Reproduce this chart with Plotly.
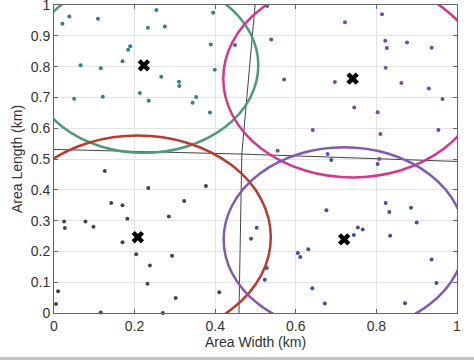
import plotly.graph_objects as go

# Cluster 1 (top-left, teal)
c1_x = [0.021, 0.038, 0.109, 0.254, 0.233, 0.275, 0.395, 0.189, 0.184, 0.389, 0.170, 0.066,
        0.116, 0.399, 0.266, 0.310, 0.311, 0.050, 0.121, 0.213, 0.235, 0.344, 0.353, 0.387]
c1_y = [0.939, 0.963, 0.955, 0.984, 0.926, 0.930, 0.975, 0.866, 0.855, 0.872, 0.817, 0.804,
        0.795, 0.790, 0.767, 0.751, 0.737, 0.696, 0.702, 0.714, 0.689, 0.683, 0.701, 0.651]

# Cluster 2 (top-right, purple)
c2_x = [0.449, 0.529, 0.814, 0.722, 0.539, 0.822, 0.876, 0.826, 0.937, 0.823, 0.571, 0.697,
        0.862, 0.930, 0.964, 0.745, 0.803, 0.642, 0.810, 0.954, 0.555, 0.679, 0.807]
c2_y = [0.870, 0.997, 0.970, 0.944, 0.888, 0.884, 0.878, 0.860, 0.861, 0.796, 0.758, 0.750,
        0.747, 0.729, 0.695, 0.667, 0.652, 0.594, 0.581, 0.594, 0.527, 0.516, 0.500]

# Cluster 3 (bottom-left, dark gray)
c3_x = [0.126, 0.234, 0.377, 0.142, 0.170, 0.323, 0.025, 0.078, 0.027, 0.098, 0.182, 0.285,
        0.170, 0.204, 0.293, 0.238, 0.232, 0.010, 0.302, 0.005, 0.410, 0.116, 0.270]
c3_y = [0.461, 0.406, 0.412, 0.357, 0.350, 0.364, 0.297, 0.297, 0.276, 0.280, 0.306, 0.313,
        0.230, 0.191, 0.186, 0.154, 0.095, 0.071, 0.049, 0.029, 0.067, 0.002, 0.000]

# Cluster 4 (bottom-right, blue)
c4_x = [0.823, 0.832, 0.886, 0.900, 0.676, 0.503, 0.489, 0.754, 0.766, 0.744, 0.834, 0.631,
        0.605, 0.611, 0.528, 0.523, 0.937, 0.949, 0.641, 0.672, 0.871, 0.688, 0.803]
c4_y = [0.357, 0.328, 0.342, 0.294, 0.334, 0.277, 0.241, 0.278, 0.271, 0.253, 0.251, 0.207,
        0.195, 0.182, 0.146, 0.108, 0.174, 0.097, 0.080, 0.031, 0.032, 0.497, 0.484]

# Centroids and coverage radii
cent_x = [0.223, 0.741, 0.208, 0.720]
cent_y = [0.804, 0.761, 0.246, 0.239]
radii = [0.284, 0.321, 0.330, 0.299]

# Cell boundaries (polyline segments)
bound_x = [0.0, 0.466, 1.0, None, 0.499, 0.466, 0.459]
bound_y = [0.531, 0.516, 0.492, None, 1.0, 0.516, 0.0]

x_ticks = [0, 0.2, 0.4, 0.6, 0.8, 1]
x_tick_labels = ["0", "0.2", "0.4", "0.6", "0.8", "1"]
y_ticks = [0, 0.1, 0.2, 0.3, 0.4, 0.5, 0.6, 0.7, 0.8, 0.9, 1]
y_tick_labels = ["0", "0.1", "0.2", "0.3", "0.4", "0.5", "0.6", "0.7", "0.8", "0.9", "1"]

point_colors = ["#2f7f90", "#7a48a0", "#454545", "#4050a0"]
circle_colors = ["#4e9a78", "#d6358c", "#b83a30", "#8458b0"]

fig = go.Figure()

fig.add_trace(go.Scatter(x=bound_x, y=bound_y, mode="lines",
                         line=dict(color="#444444", width=1), hoverinfo="skip"))

for xs, ys, col in [(c1_x, c1_y, point_colors[0]), (c2_x, c2_y, point_colors[1]),
                    (c3_x, c3_y, point_colors[2]), (c4_x, c4_y, point_colors[3])]:
    fig.add_trace(go.Scatter(x=xs, y=ys, mode="markers",
                             marker=dict(color=col, size=4), cliponaxis=False))

fig.add_trace(go.Scatter(x=cent_x, y=cent_y, mode="markers",
                         marker=dict(symbol="x", color="black", size=11,
                                     line=dict(width=0))))

shapes = []
for cx, cy, r, col in zip(cent_x, cent_y, radii, circle_colors):
    shapes.append(dict(type="circle", xref="x", yref="y",
                       x0=cx - r, x1=cx + r, y0=cy - r, y1=cy + r,
                       line=dict(color=col, width=2.5), layer="above"))
shapes.append(dict(type="rect", xref="paper", yref="paper",
                   x0=-0.2, x1=1.1, y0=-0.1526, y1=-0.143,
                   fillcolor="#c4c4c4", line=dict(width=0), layer="above"))

fig.update_layout(
    template="none",
    width=474, height=360,
    margin=dict(l=54, r=17, t=5, b=47, autoexpand=False),
    paper_bgcolor="white", plot_bgcolor="white",
    showlegend=False,
    shapes=shapes,
    font=dict(family="Liberation Sans, Arial, sans-serif", size=14, color="#333333"),
    xaxis=dict(range=[0, 1], tickvals=x_ticks, ticktext=x_tick_labels, automargin=False,
               ticklabeloverflow="allow",
               showgrid=True, gridcolor="#e4e4e4", gridwidth=1,
               showline=True, linecolor="#666666", linewidth=1, mirror="ticks",
               ticks="inside", ticklen=4, tickcolor="#666666", zeroline=False,
               title=dict(text="Area Width (km)", standoff=4, font=dict(size=14))),
    yaxis=dict(range=[0, 1], tickvals=y_ticks, ticktext=y_tick_labels, automargin=False,
               ticklabeloverflow="allow",
               showgrid=True, gridcolor="#e4e4e4", gridwidth=1,
               showline=True, linecolor="#666666", linewidth=1, mirror="ticks",
               ticks="inside", ticklen=4, tickcolor="#666666", zeroline=False,
               title=dict(text="Area Length (km)", standoff=4, font=dict(size=14))),
)

fig.write_html("out.html", config={"displayModeBar": False},
               post_script="document.body.style.margin='0px';document.body.style.padding='0px';")
